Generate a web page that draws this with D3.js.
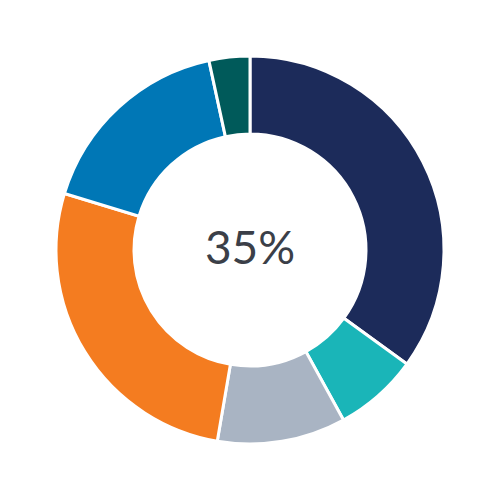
<!DOCTYPE html>
<html lang="en">
<head>
    <meta charset="UTF-8">
    <title>Donut</title>
    <style>
        body { margin: 0; background: #fff; }
        .slice path { stroke: #fff; stroke-width: 3px; }
        .center-label { font-family: Lato, sans-serif; font-weight: 400; fill: #3b3f48; }
    </style>
    <script src="https://d3js.org/d3.v7.min.js"></script>
</head>
<body>
    <script>
        const categories = ["A", "B", "C", "D", "E", "F"];
        const values = [35, 7, 10.7, 27, 16.9, 3.4];
        const colors = ["#1c2b5a", "#1ab5b8", "#a9b4c3", "#f47c20", "#0077b6", "#005a5a"];
        const centerText = "35%";

        const width = 500, height = 500;
        const svg = d3.select("body").append("svg")
            .attr("width", width)
            .attr("height", height);

        const g = svg.append("g").attr("transform", `translate(250,250)`);

        const pie = d3.pie().sort(null).value((d, i) => values[i]);
        const arc = d3.arc().innerRadius(116).outerRadius(194);
        const color = d3.scaleOrdinal().domain(categories).range(colors);

        g.append("g").attr("class", "slice")
            .selectAll("path")
            .data(pie(categories))
            .enter().append("path")
            .attr("d", arc)
            .attr("fill", d => color(d.data));

        g.append("text")
            .attr("class", "center-label")
            .attr("text-anchor", "middle")
            .attr("y", 14)
            .attr("font-size", 46)
            .text(centerText);
    </script>
</body>
</html>
